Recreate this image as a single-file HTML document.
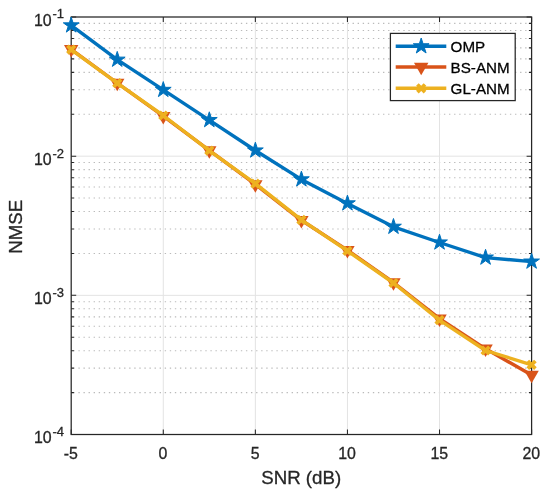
<!DOCTYPE html>
<html><head><meta charset="utf-8"><title>NMSE vs SNR</title>
<style>html,body{margin:0;padding:0;background:#fff}svg{display:block}text{stroke:#262626;stroke-width:.3px}text.lg{fill:#000;stroke:#000;stroke-width:.28px}</style></head>
<body>
<svg width="550" height="494" viewBox="0 0 550 494" font-family="'Liberation Sans', sans-serif" fill="#262626">
<rect width="550" height="494" fill="#fff"/>
<path d="M71.2 114.27H531.6M71.2 89.77H531.6M71.2 72.38H531.6M71.2 58.89H531.6M71.2 47.87H531.6M71.2 38.56H531.6M71.2 30.49H531.6M71.2 23.37H531.6M71.2 253.44H531.6M71.2 228.93H531.6M71.2 211.55H531.6M71.2 198.06H531.6M71.2 187.04H531.6M71.2 177.72H531.6M71.2 169.65H531.6M71.2 162.53H531.6M71.2 392.61H531.6M71.2 368.10H531.6M71.2 350.71H531.6M71.2 337.23H531.6M71.2 326.21H531.6M71.2 316.89H531.6M71.2 308.82H531.6M71.2 301.70H531.6" stroke="#bababa" stroke-width="1.1" stroke-dasharray="1.35 3.727" stroke-dashoffset="-7.2" fill="none"/>
<path d="M163.28000000000003 17.0V434.5M255.36 17.0V434.5M347.44 17.0V434.5M439.52000000000004 17.0V434.5M71.2 156.17H531.6M71.2 295.33H531.6" stroke="#e3e3e3" stroke-width="1" fill="none"/>
<path d="M71.2 434.5v-5M71.2 17.0v5M163.28000000000003 434.5v-5M163.28000000000003 17.0v5M255.36 434.5v-5M255.36 17.0v5M347.44 434.5v-5M347.44 17.0v5M439.52000000000004 434.5v-5M439.52000000000004 17.0v5M531.6000000000001 434.5v-5M531.6000000000001 17.0v5M71.2 17.00h5M531.6 17.00h-5M71.2 156.17h5M531.6 156.17h-5M71.2 295.33h5M531.6 295.33h-5M71.2 434.50h5M531.6 434.50h-5M71.2 114.27h2.7M531.6 114.27h-2.7M71.2 89.77h2.7M531.6 89.77h-2.7M71.2 72.38h2.7M531.6 72.38h-2.7M71.2 58.89h2.7M531.6 58.89h-2.7M71.2 47.87h2.7M531.6 47.87h-2.7M71.2 38.56h2.7M531.6 38.56h-2.7M71.2 30.49h2.7M531.6 30.49h-2.7M71.2 23.37h2.7M531.6 23.37h-2.7M71.2 253.44h2.7M531.6 253.44h-2.7M71.2 228.93h2.7M531.6 228.93h-2.7M71.2 211.55h2.7M531.6 211.55h-2.7M71.2 198.06h2.7M531.6 198.06h-2.7M71.2 187.04h2.7M531.6 187.04h-2.7M71.2 177.72h2.7M531.6 177.72h-2.7M71.2 169.65h2.7M531.6 169.65h-2.7M71.2 162.53h2.7M531.6 162.53h-2.7M71.2 392.61h2.7M531.6 392.61h-2.7M71.2 368.10h2.7M531.6 368.10h-2.7M71.2 350.71h2.7M531.6 350.71h-2.7M71.2 337.23h2.7M531.6 337.23h-2.7M71.2 326.21h2.7M531.6 326.21h-2.7M71.2 316.89h2.7M531.6 316.89h-2.7M71.2 308.82h2.7M531.6 308.82h-2.7M71.2 301.70h2.7M531.6 301.70h-2.7" stroke="#262626" stroke-width="1.05" fill="none"/>
<rect x="71.2" y="17.0" width="460.40000000000003" height="417.5" fill="none" stroke="#262626" stroke-width="1.25"/>
<polyline points="71.2,25.4 117.2,59.7 163.3,89.9 209.3,120.1 255.4,150.5 301.4,179.4 347.4,203.4 393.5,226.8 439.5,242.5 485.6,257.6 531.6,261.6" fill="none" stroke="#0072BD" stroke-width="3.4" stroke-linejoin="round"/>
<polygon points="71.20,17.10 73.06,22.83 79.09,22.84 74.22,26.38 76.08,32.11 71.20,28.57 66.32,32.11 68.18,26.38 63.31,22.84 69.34,22.83" fill="#0072BD" stroke="#0072BD" stroke-width="1" stroke-linejoin="miter"/>
<polygon points="117.24,51.40 119.10,57.13 125.13,57.14 120.26,60.68 122.12,66.41 117.24,62.87 112.36,66.41 114.22,60.68 109.35,57.14 115.38,57.13" fill="#0072BD" stroke="#0072BD" stroke-width="1" stroke-linejoin="miter"/>
<polygon points="163.28,81.60 165.14,87.33 171.17,87.34 166.30,90.88 168.16,96.61 163.28,93.07 158.40,96.61 160.26,90.88 155.39,87.34 161.42,87.33" fill="#0072BD" stroke="#0072BD" stroke-width="1" stroke-linejoin="miter"/>
<polygon points="209.32,111.80 211.18,117.53 217.21,117.54 212.34,121.08 214.20,126.81 209.32,123.27 204.44,126.81 206.30,121.08 201.43,117.54 207.46,117.53" fill="#0072BD" stroke="#0072BD" stroke-width="1" stroke-linejoin="miter"/>
<polygon points="255.36,142.20 257.22,147.93 263.25,147.94 258.38,151.48 260.24,157.21 255.36,153.67 250.48,157.21 252.34,151.48 247.47,147.94 253.50,147.93" fill="#0072BD" stroke="#0072BD" stroke-width="1" stroke-linejoin="miter"/>
<polygon points="301.40,171.10 303.26,176.83 309.29,176.84 304.42,180.38 306.28,186.11 301.40,182.57 296.52,186.11 298.38,180.38 293.51,176.84 299.54,176.83" fill="#0072BD" stroke="#0072BD" stroke-width="1" stroke-linejoin="miter"/>
<polygon points="347.44,195.10 349.30,200.83 355.33,200.84 350.46,204.38 352.32,210.11 347.44,206.57 342.56,210.11 344.42,204.38 339.55,200.84 345.58,200.83" fill="#0072BD" stroke="#0072BD" stroke-width="1" stroke-linejoin="miter"/>
<polygon points="393.48,218.50 395.34,224.23 401.37,224.24 396.50,227.78 398.36,233.51 393.48,229.97 388.60,233.51 390.46,227.78 385.59,224.24 391.62,224.23" fill="#0072BD" stroke="#0072BD" stroke-width="1" stroke-linejoin="miter"/>
<polygon points="439.52,234.20 441.38,239.93 447.41,239.94 442.54,243.48 444.40,249.21 439.52,245.67 434.64,249.21 436.50,243.48 431.63,239.94 437.66,239.93" fill="#0072BD" stroke="#0072BD" stroke-width="1" stroke-linejoin="miter"/>
<polygon points="485.56,249.30 487.42,255.03 493.45,255.04 488.58,258.58 490.44,264.31 485.56,260.77 480.68,264.31 482.54,258.58 477.67,255.04 483.70,255.03" fill="#0072BD" stroke="#0072BD" stroke-width="1" stroke-linejoin="miter"/>
<polygon points="531.60,253.30 533.46,259.03 539.49,259.04 534.62,262.58 536.48,268.31 531.60,264.77 526.72,268.31 528.58,262.58 523.71,259.04 529.74,259.03" fill="#0072BD" stroke="#0072BD" stroke-width="1" stroke-linejoin="miter"/>
<polyline points="71.2,49.3 117.2,83.0 163.3,116.1 209.3,150.4 255.4,184.4 301.4,220.3 347.4,250.1 393.5,282.5 439.5,318.6 485.6,348.8 531.6,375.0" fill="none" stroke="#D95319" stroke-width="3.4" stroke-linejoin="round"/>
<polygon points="64.00,45.10 78.40,45.10 71.20,57.60" fill="#D95319"/>
<polygon points="110.04,78.80 124.44,78.80 117.24,91.30" fill="#D95319"/>
<polygon points="156.08,111.90 170.48,111.90 163.28,124.40" fill="#D95319"/>
<polygon points="202.12,146.20 216.52,146.20 209.32,158.70" fill="#D95319"/>
<polygon points="248.16,180.20 262.56,180.20 255.36,192.70" fill="#D95319"/>
<polygon points="294.20,216.10 308.60,216.10 301.40,228.60" fill="#D95319"/>
<polygon points="340.24,245.90 354.64,245.90 347.44,258.40" fill="#D95319"/>
<polygon points="386.28,278.30 400.68,278.30 393.48,290.80" fill="#D95319"/>
<polygon points="432.32,314.40 446.72,314.40 439.52,326.90" fill="#D95319"/>
<polygon points="478.36,344.60 492.76,344.60 485.56,357.10" fill="#D95319"/>
<polygon points="524.40,370.80 538.80,370.80 531.60,383.30" fill="#D95319"/>
<polyline points="71.2,49.6 117.2,83.2 163.3,115.5 209.3,150.6 255.4,183.7 301.4,219.9 347.4,250.9 393.5,283.0 439.5,320.1 485.6,350.5 531.6,364.8" fill="none" stroke="#EDB120" stroke-width="3.4" stroke-linejoin="round"/>
<path d="M67.40 45.80L75.00 53.40M67.40 53.40L75.00 45.80" stroke="#EDB120" stroke-width="3.6999999999999997" fill="none"/>
<path d="M113.44 79.40L121.04 87.00M113.44 87.00L121.04 79.40" stroke="#EDB120" stroke-width="3.6999999999999997" fill="none"/>
<path d="M159.48 111.70L167.08 119.30M159.48 119.30L167.08 111.70" stroke="#EDB120" stroke-width="3.6999999999999997" fill="none"/>
<path d="M205.52 146.80L213.12 154.40M205.52 154.40L213.12 146.80" stroke="#EDB120" stroke-width="3.6999999999999997" fill="none"/>
<path d="M251.56 179.90L259.16 187.50M251.56 187.50L259.16 179.90" stroke="#EDB120" stroke-width="3.6999999999999997" fill="none"/>
<path d="M297.60 216.10L305.20 223.70M297.60 223.70L305.20 216.10" stroke="#EDB120" stroke-width="3.6999999999999997" fill="none"/>
<path d="M343.64 247.10L351.24 254.70M343.64 254.70L351.24 247.10" stroke="#EDB120" stroke-width="3.6999999999999997" fill="none"/>
<path d="M389.68 279.20L397.28 286.80M389.68 286.80L397.28 279.20" stroke="#EDB120" stroke-width="3.6999999999999997" fill="none"/>
<path d="M435.72 316.30L443.32 323.90M435.72 323.90L443.32 316.30" stroke="#EDB120" stroke-width="3.6999999999999997" fill="none"/>
<path d="M481.76 346.70L489.36 354.30M481.76 354.30L489.36 346.70" stroke="#EDB120" stroke-width="3.6999999999999997" fill="none"/>
<path d="M527.80 361.00L535.40 368.60M527.80 368.60L535.40 361.00" stroke="#EDB120" stroke-width="3.6999999999999997" fill="none"/>
<text x="70.9" y="459" font-size="15.9" text-anchor="middle">-5</text>
<text x="162.98000000000002" y="459" font-size="15.9" text-anchor="middle">0</text>
<text x="255.06" y="459" font-size="15.9" text-anchor="middle">5</text>
<text x="347.14" y="459" font-size="15.9" text-anchor="middle">10</text>
<text x="439.22" y="459" font-size="15.9" text-anchor="middle">15</text>
<text x="531.3000000000002" y="459" font-size="15.9" text-anchor="middle">20</text>
<text x="51.7" y="25.9" font-size="15.9" text-anchor="end">10</text>
<text x="52.4" y="18.4" font-size="13">-1</text>
<text x="51.7" y="165.1" font-size="15.9" text-anchor="end">10</text>
<text x="52.4" y="157.6" font-size="13">-2</text>
<text x="51.7" y="304.2" font-size="15.9" text-anchor="end">10</text>
<text x="52.4" y="296.7" font-size="13">-3</text>
<text x="51.7" y="443.4" font-size="15.9" text-anchor="end">10</text>
<text x="52.4" y="435.9" font-size="13">-4</text>
<text x="301.2" y="483.7" font-size="18.7" text-anchor="middle">SNR (dB)</text>
<text transform="translate(22.0 226.8) rotate(-90)" font-size="18.7" text-anchor="middle">NMSE</text>
<rect x="390.4" y="33.4" width="124.8" height="67.2" fill="#fff" stroke="#262626" stroke-width="1.25"/>
<path d="M395.7 46.3H446.3" stroke="#0072BD" stroke-width="3.4"/>
<path d="M395.7 67.0H446.3" stroke="#D95319" stroke-width="3.4"/>
<path d="M395.7 88.3H446.3" stroke="#EDB120" stroke-width="3.4"/>
<polygon points="421.20,38.00 423.06,43.73 429.09,43.74 424.22,47.28 426.08,53.01 421.20,49.47 416.32,53.01 418.18,47.28 413.31,43.74 419.34,43.73" fill="#0072BD" stroke="#0072BD" stroke-width="1" stroke-linejoin="miter"/>
<polygon points="414.00,62.80 428.40,62.80 421.20,75.30" fill="#D95319"/>
<path d="M417.40 84.50L425.00 92.10M417.40 92.10L425.00 84.50" stroke="#EDB120" stroke-width="3.6999999999999997" fill="none"/>
<text class="lg" x="450.6" y="51.7" font-size="15.2">OMP</text>
<text class="lg" x="450.6" y="72.9" font-size="15.2">BS-ANM</text>
<text class="lg" x="450.6" y="94.1" font-size="15.2">GL-ANM</text>
</svg>
</body></html>
